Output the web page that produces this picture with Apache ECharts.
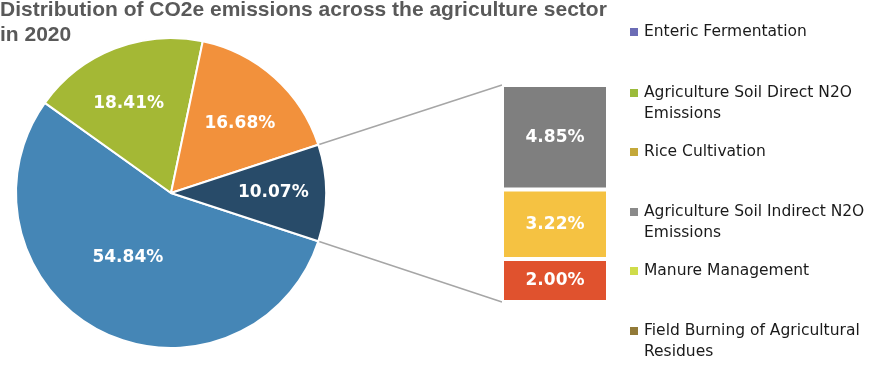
<!DOCTYPE html>
<html>
<head>
<meta charset="utf-8">
<script src="https://cdn.jsdelivr.net/npm/echarts@6/dist/echarts.min.js"></script>
<style>
html,body{margin:0;padding:0;background:#fff;}
#c{width:876px;height:366px;}
</style>
</head>
<body>
<div id="c"></div>
<script>
// ---- data ----
var pieNames = ['Enteric Fermentation', 'Agriculture Soil Direct N2O Emissions', 'Rice Cultivation', 'Other'];
var pieValues = [54.84, 18.41, 16.68, 10.07];
var barNames = ['Field Burning of Agricultural Residues', 'Manure Management', 'Agriculture Soil Indirect N2O Emissions'];
var barValues = [2.00, 3.22, 4.85];
var legendNames = ['Enteric Fermentation', 'Agriculture Soil Direct N2O Emissions', 'Rice Cultivation',
                   'Agriculture Soil Indirect N2O Emissions', 'Manure Management', 'Field Burning of Agricultural Residues'];
var titleText = 'Distribution of CO2e emissions across the agriculture sector\nin 2020';

// ---- styles / layout ----
var pieColors = ['#4586b6', '#a4b835', '#f2913c', '#284b69'];
var barColors = ['#e0522e', '#f5c242', '#7f7f7f'];
var legendColors = ['#6b6cb5', '#9bbb3b', '#c4a83a', '#8a8a8a', '#cfdc4a', '#927a38'];
var legendWrap = {
  'Agriculture Soil Direct N2O Emissions': ' \nAgriculture Soil Direct N2O\nEmissions',
  'Agriculture Soil Indirect N2O Emissions': ' \nAgriculture Soil Indirect N2O\nEmissions',
  'Field Burning of Agricultural Residues': ' \nField Burning of Agricultural\nResidues'
};
var legendFirstLineY = [32, 93, 152, 212, 271, 331];
var labelTweak = [[0.50, -7], [0.64, 4], [0.63, -3], [0.66, 0]];
var CX = 171, CY = 193, R = 155;
var GL = 502, GT = 85, GW = 106, GH = 217;

var total = pieValues.reduce(function (a, b) { return a + b; }, 0);
var otherShare = pieValues[pieValues.length - 1] / total * 360;
var startAngle = -otherShare / 2;
var barTotal = barValues.reduce(function (a, b) { return a + b; }, 0);

function midAngle(i) {
  var cum = 0;
  for (var k = 0; k < i; k++) cum += pieValues[k];
  return startAngle - (cum + pieValues[i] / 2) / total * 360;
}

var legends = legendNames.map(function (n, i) {
  var twoLines = !!legendWrap[n];
  var top = twoLines ? legendFirstLineY[i] - 31.5 : legendFirstLineY[i] - 10.5;
  return {
    orient: 'vertical', left: 628, top: top, padding: 0,
    itemWidth: 10, itemHeight: 10, selectedMode: false,
    icon: 'rect',
    data: [{ name: n, itemStyle: { color: legendColors[i] } }],
    formatter: function (name) { return legendWrap[name] || name; },
    textStyle: {
      fontFamily: 'DejaVu Sans', fontSize: 15.5, color: '#1a1a1a', lineHeight: 21
    }
  };
});

var series = [{
  type: 'pie',
  center: [CX, CY],
  radius: [0, R],
  startAngle: startAngle,
  clockwise: true,
  avoidLabelOverlap: false,
  silent: true,
  itemStyle: { borderColor: '#ffffff', borderWidth: 2 },
  label: {
    show: true, position: 'inside',
    formatter: function (p) { return p.value.toFixed(2) + '%'; },
    color: '#ffffff', fontFamily: 'DejaVu Sans', fontWeight: 'bold', fontSize: 17
  },
  labelLine: { show: false },
  labelLayout: function (p) {
    var i = p.dataIndex;
    var a = (midAngle(i) + labelTweak[i][1]) * Math.PI / 180;
    var r = R * labelTweak[i][0];
    return { x: CX + r * Math.cos(a), y: CY - r * Math.sin(a), align: 'center', verticalAlign: 'middle' };
  },
  data: pieNames.map(function (n, i) {
    return { name: n, value: pieValues[i], itemStyle: { color: pieColors[i] } };
  })
}];

barNames.forEach(function (n, i) {
  series.push({
    type: 'bar', name: n, stack: 'other', barWidth: '100%',
    silent: true,
    xAxisIndex: 0, yAxisIndex: 0,
    itemStyle: { color: barColors[i], borderColor: '#ffffff', borderWidth: 2 },
    label: {
      show: true, position: 'inside',
      formatter: function (p) { return p.value.toFixed(2) + '%'; },
      color: '#ffffff', fontFamily: 'DejaVu Sans', fontWeight: 'bold', fontSize: 17
    },
    data: [barValues[i]]
  });
});

var a1 = otherShare / 2 * Math.PI / 180;
var chart = echarts.init(document.getElementById('c'), null, { renderer: 'canvas' });
chart.setOption({
  animation: false,
  backgroundColor: '#ffffff',
  title: {
    text: titleText, left: 0, top: -2, padding: 0,
    textStyle: { fontFamily: 'Liberation Sans', fontWeight: 'bold', fontSize: 21, color: '#595959', lineHeight: 25 }
  },
  legend: legends,
  grid: { left: GL, top: GT, width: GW, height: GH },
  xAxis: { type: 'category', data: ['Other'], show: false },
  yAxis: { type: 'value', min: 0, max: barTotal, show: false },
  graphic: [
    { type: 'line', silent: true, shape: { x1: CX + R * Math.cos(a1), y1: CY - R * Math.sin(a1), x2: GL, y2: GT },
      style: { stroke: '#a6a6a6', lineWidth: 1.5 } },
    { type: 'line', silent: true, shape: { x1: CX + R * Math.cos(a1), y1: CY + R * Math.sin(a1), x2: GL, y2: GT + GH },
      style: { stroke: '#a6a6a6', lineWidth: 1.5 } }
  ],
  series: series
});
</script>
</body>
</html>
